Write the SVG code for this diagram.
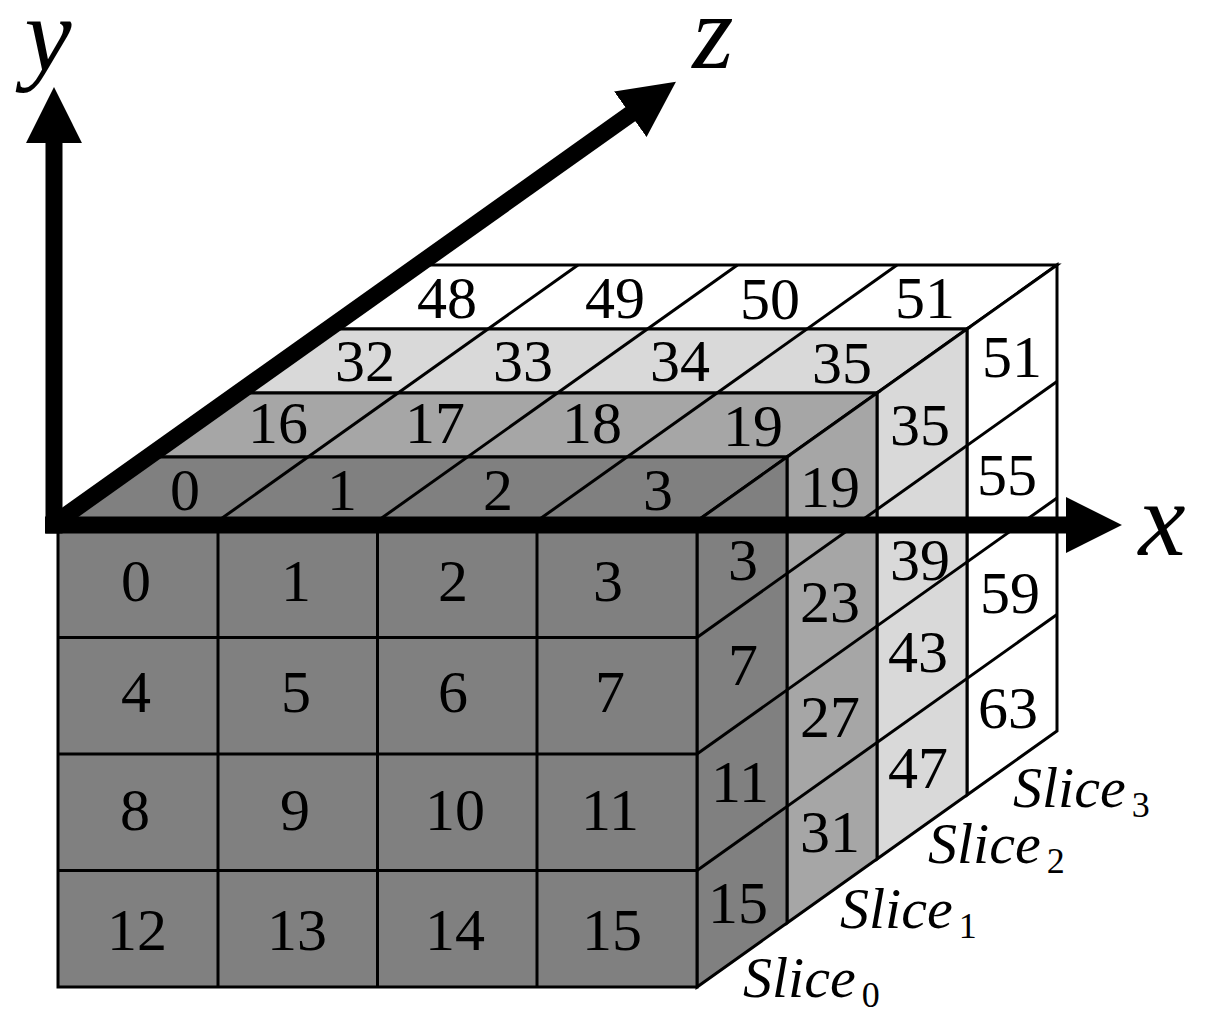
<svg xmlns="http://www.w3.org/2000/svg" width="1209" height="1028" viewBox="0 0 1209 1028">
<style>
.face{stroke:#000;stroke-width:3;stroke-linejoin:miter}
.s0{fill:#808080}.s1{fill:#a6a6a6}.s2{fill:#d9d9d9}.s3{fill:#fff}
.ln{stroke:#000;stroke-width:3;fill:none}
.ax{stroke:#000;stroke-width:17;fill:none}
</style>
<defs>
<marker id="ah" markerUnits="userSpaceOnUse" markerWidth="56" markerHeight="56" viewBox="0 0 54 54" refX="2" refY="27" orient="auto">
<path d="M0,0 L54,27 L0,54 z" fill="#000"/>
</marker>
</defs>
<rect width="1209" height="1028" fill="#fff"/>

<g id="slice3">
<polygon class="face s3" points="328,329 967,329 1057,265 418,265"/>
<polygon class="face s3" points="967,329 1057,265 1057,731 967,795"/>
</g>
<g id="slice2">
<polygon class="face s2" points="238,393 877,393 967,329 328,329"/>
<polygon class="face s2" points="877,393 967,329 967,795 877,859"/>
</g>
<g id="slice1">
<polygon class="face s1" points="148,457 787,457 877,393 238,393"/>
<polygon class="face s1" points="787,457 877,393 877,859 787,923"/>
</g>
<g id="slice0">
<polygon class="face s0" points="58,521 697,521 787,457 148,457"/>
<polygon class="face s0" points="697,521 787,457 787,923 697,987"/>
<rect class="face s0" x="58" y="521" width="639" height="466"/>
</g>

<g id="grid">
<line class="ln" x1="218" y1="521" x2="578" y2="265"/>
<line class="ln" x1="377.5" y1="521" x2="737.5" y2="265"/>
<line class="ln" x1="537" y1="521" x2="897" y2="265"/>
<line class="ln" x1="697" y1="637.5" x2="1057" y2="381.5"/>
<line class="ln" x1="697" y1="754" x2="1057" y2="498"/>
<line class="ln" x1="697" y1="870.5" x2="1057" y2="614.5"/>
<line class="ln" x1="218" y1="521" x2="218" y2="987"/>
<line class="ln" x1="377.5" y1="521" x2="377.5" y2="987"/>
<line class="ln" x1="537" y1="521" x2="537" y2="987"/>
<line class="ln" x1="58" y1="637.5" x2="697" y2="637.5"/>
<line class="ln" x1="58" y1="754" x2="697" y2="754"/>
<line class="ln" x1="58" y1="870.5" x2="697" y2="870.5"/>
</g>

<g id="labels" font-family="Liberation Serif, Times New Roman, DejaVu Serif, serif" font-size="60" text-anchor="middle" fill="#000">
<text x="136" y="601">0</text>
<text x="296" y="601">1</text>
<text x="453" y="601">2</text>
<text x="608" y="601">3</text>
<text x="136" y="712">4</text>
<text x="296" y="712">5</text>
<text x="453" y="712">6</text>
<text x="610" y="712">7</text>
<text x="135" y="830">8</text>
<text x="295" y="830">9</text>
<text x="455" y="830">10</text>
<text x="610" y="830">11</text>
<text x="137" y="950">12</text>
<text x="297" y="950">13</text>
<text x="455" y="950">14</text>
<text x="612" y="950">15</text>
<text x="185" y="510">0</text>
<text x="342" y="510">1</text>
<text x="498" y="510">2</text>
<text x="658" y="510">3</text>
<text x="278" y="443">16</text>
<text x="435" y="443">17</text>
<text x="592" y="443">18</text>
<text x="753" y="446">19</text>
<text x="365" y="381">32</text>
<text x="523" y="381">33</text>
<text x="680" y="381">34</text>
<text x="842" y="383">35</text>
<text x="447" y="318">48</text>
<text x="615" y="318">49</text>
<text x="770" y="319">50</text>
<text x="925" y="318">51</text>
<text x="743" y="580">3</text>
<text x="743" y="685">7</text>
<text x="740" y="802">11</text>
<text x="738" y="923">15</text>
<text x="830" y="507">19</text>
<text x="830" y="622">23</text>
<text x="830" y="737">27</text>
<text x="830" y="852">31</text>
<text x="920" y="445">35</text>
<text x="920" y="580">39</text>
<text x="918" y="672">43</text>
<text x="918" y="788">47</text>
<text x="1012" y="377">51</text>
<text x="1007" y="495">55</text>
<text x="1010" y="613">59</text>
<text x="1008" y="728">63</text>
</g>

<g id="axes">
<line class="ax" x1="45" y1="525" x2="1068" y2="525" marker-end="url(#ah)"/>
<line class="ax" x1="54" y1="533.5" x2="54" y2="141" marker-end="url(#ah)"/>
<line class="ax" x1="58" y1="521" x2="632" y2="113" marker-end="url(#ah)"/>
</g>
<g id="axis-labels" font-family="Liberation Serif, Times New Roman, DejaVu Serif, serif" font-style="italic" font-size="106" text-anchor="middle" fill="#000">
<text x="48" y="70">y</text>
<text x="713" y="68">z</text>
<text x="1162" y="555">x</text>
</g>
<g id="slice-labels" font-family="Liberation Serif, Times New Roman, DejaVu Serif, serif" font-style="italic" font-size="58" fill="#000">
<text x="1013" y="807">Slice<tspan font-style="normal" font-size="36" dx="6" dy="10">3</tspan></text>
<text x="928" y="863">Slice<tspan font-style="normal" font-size="36" dx="6" dy="10">2</tspan></text>
<text x="840" y="928">Slice<tspan font-style="normal" font-size="36" dx="6" dy="10">1</tspan></text>
<text x="743" y="997">Slice<tspan font-style="normal" font-size="36" dx="6" dy="10">0</tspan></text>
</g>
</svg>
